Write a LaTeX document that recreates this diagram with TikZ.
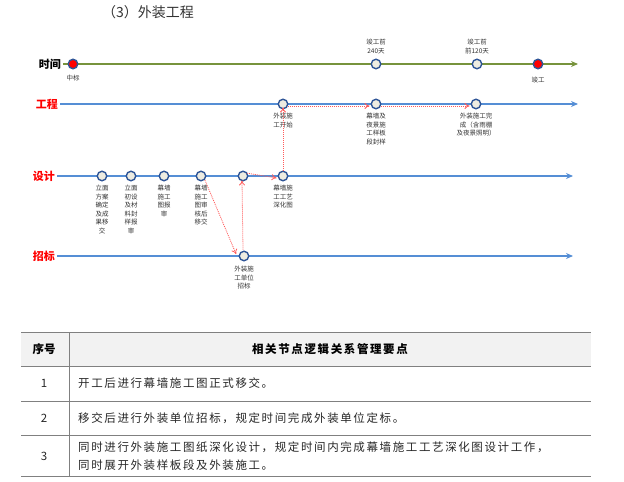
\documentclass[tikz,border=0pt]{standalone}
\usepackage{fontspec}
\setmainfont{Noto Sans CJK SC}
\newfontfamily\tbl[LetterSpace=14]{Noto Sans CJK SC}
\usetikzlibrary{arrows.meta}
\definecolor{tgreen}{HTML}{77933C}
\definecolor{tblue}{HTML}{558ED5}
\definecolor{nblue}{HTML}{2F5597}
\definecolor{nfill}{HTML}{EEECE1}
\definecolor{dred}{HTML}{FF5A5A}
\definecolor{hdr}{HTML}{F2F2F2}
\definecolor{rule}{HTML}{808080}
\tikzset{
  evt/.style={circle,draw=nblue,line width=1.4pt,fill=nfill,minimum size=9.5pt,inner sep=0pt},
  redevt/.style={evt,fill=red},
  lanelbl/.style={font=\bfseries\fontsize{11}{12}\selectfont,anchor=east,inner sep=0pt},
  sml/.style={font=\fontsize{6.5}{8.5}\selectfont,align=center,inner sep=0pt,anchor=north,text=black!80},
  dep/.style={draw=dred,line width=0.8pt,dash pattern=on 1pt off 1pt,-{To[length=5pt,width=6pt,line width=0.8pt]}},
  tline/.style={line width=1.3pt,-{Stealth[length=7pt,width=6pt]}},
  tbltxt/.style={font=\tbl\fontsize{11.5}{18}\selectfont,anchor=west,align=left,inner sep=0pt,text=black!85},
}
\begin{document}
\begin{tikzpicture}[x=1pt,y=-1pt]
\useasboundingbox (0,0) rectangle (624,482);
\node[font=\fontsize{14}{16}\selectfont,inner sep=0pt,text=black!80] (title) at (148,12) {（3）外装工程};
% lanes
\node[lanelbl] (l1) at (61,64) {时间};
\node[lanelbl,text=red] (l2) at (58,104) {工程};
\node[lanelbl,text=red] (l3) at (55,176) {设计};
\node[lanelbl,text=red] (l4) at (55,256) {招标};
\coordinate (e1) at (578,64);
\coordinate (e2) at (578,104);
\coordinate (e3) at (573,176);
\coordinate (e4) at (573,256);
\draw[tline,draw=tgreen] (l1.east) ++(2,0) coordinate (s1) -- (e1);
\draw[tline,draw=tblue] (l2.east) ++(2,0) coordinate (s2) -- (e2);
\draw[tline,draw=tblue] (l3.east) ++(2,0) coordinate (s3) -- (e3);
\draw[tline,draw=tblue] (l4.east) ++(2,0) coordinate (s4) -- (e4);
% time nodes
\node[redevt] (t0) at (73,64) {};
\node[evt] (t1) at (376,64) {};
\node[evt] (t2) at (477,64) {};
\node[redevt] (t3) at (538,64) {};
\node[sml] (t0l) at (73,75) {中标};
\node[sml,anchor=south] (t1l) at (376,54) {竣工前\\240天};
\node[sml,anchor=south] (t2l) at (477,54) {竣工前\\前120天};
\node[sml] (t3l) at (538,77) {竣工};
% engineering nodes
\node[evt] (g1) at (283,104) {};
\node[evt] (g2) at (376,104) {};
\node[evt] (g3) at (476,104) {};
\node[sml] (g1l) at (283,113) {外装施\\工开始};
\node[sml] (g2l) at (376,113) {幕墙及\\夜景施\\工样板\\段封样};
\node[sml] (g3l) at (476,113) {外装施工完\\成（含雨棚\\及夜景照明）};
% design nodes
\node[evt] (d1) at (102,176) {};
\node[evt] (d2) at (131,176) {};
\node[evt] (d3) at (164,176) {};
\node[evt] (d4) at (201,176) {};
\node[evt] (d5) at (243,176) {};
\node[evt] (d6) at (283,176) {};
\node[sml] (d1l) at (102,185) {立面\\方案\\确定\\及成\\果移\\交};
\node[sml] (d2l) at (131,185) {立面\\初设\\及材\\料封\\样报\\审};
\node[sml] (d3l) at (164,185) {幕墙\\施工\\图报\\审};
\node[sml] (d4l) at (201,185) {幕墙\\施工\\图审\\核后\\移交};
\node[sml] (d6l) at (283,185) {幕墙施\\工工艺\\深化图};
% bidding node
\node[evt] (b1) at (244,256) {};
\node[sml] (b1l) at (244,266) {外装施\\工单位\\招标};
% dependencies
\draw[dep] (d4.south east) -- ([xshift=-4pt,yshift=-2pt]b1.north west);
\draw[dep] (b1.north) ++(-1,-1) -- ([xshift=-1pt,yshift=1pt]d5.south);
\draw[dep] (d5.north east) ++(0,1) -- ([xshift=-1pt,yshift=-2pt]d6.west);
\draw[dep] (d6.north) -- ([yshift=2pt]g1.south);
\draw[dep] ([yshift=-2pt]g1.east) -- ([xshift=-1pt,yshift=-2pt]g2.west);
\draw[dep] ([yshift=-2pt]g2.east) -- ([xshift=-1pt,yshift=-2pt]g3.west);
% table
\fill[hdr] (21,332) rectangle (591,366);
\draw[rule,line width=0.8pt] (21,332) coordinate (ta) -- (591,332);
\draw[rule,line width=0.6pt] (21,366) -- (591,366);
\draw[rule,line width=0.6pt] (21,401) -- (591,401);
\draw[rule,line width=0.6pt] (21,435) -- (591,435);
\draw[rule,line width=0.8pt] (21,476) -- (591,476);
\draw[rule,line width=0.6pt] (69,332) -- (69,476);
\node[font=\bfseries\fontsize{11.5}{14}\selectfont,inner sep=0pt] (h1) at (44,349) {序号};
\node[font=\bfseries\tbl\fontsize{11.5}{14}\selectfont,inner sep=0pt] (h2) at (330,349) {相关节点逻辑关系管理要点};
\node[font=\fontsize{11.5}{14}\selectfont,inner sep=0pt,text=black!85] (n1) at (44,383) {1};
\node[font=\fontsize{11.5}{14}\selectfont,inner sep=0pt,text=black!85] (n2) at (44,418) {2};
\node[font=\fontsize{11.5}{14}\selectfont,inner sep=0pt,text=black!85] (n3) at (44,456) {3};
\node[tbltxt] (r1) at (78,383) {开工后进行幕墙施工图正式移交。};
\node[tbltxt] (r2) at (78,418) {移交后进行外装单位招标，规定时间完成外装单位定标。};
\node[tbltxt] (r3) at (78,456) {同时进行外装施工图纸深化设计，规定时间内完成幕墙施工工艺深化图设计工作，\\同时展开外装样板段及外装施工。};
\end{tikzpicture}
\end{document}
